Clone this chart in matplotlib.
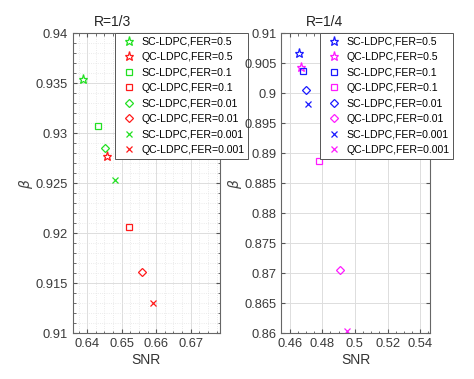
import matplotlib
matplotlib.use('Agg')
import matplotlib.pyplot as plt
from matplotlib.ticker import MultipleLocator, FuncFormatter

plt.rcParams['font.family'] = ['Liberation Sans', 'DejaVu Sans']

# легенда / серии
labels = ['SC-LDPC,FER=0.5', 'QC-LDPC,FER=0.5', 'SC-LDPC,FER=0.1', 'QC-LDPC,FER=0.1',
          'SC-LDPC,FER=0.01', 'QC-LDPC,FER=0.01', 'SC-LDPC,FER=0.001', 'QC-LDPC,FER=0.001']
markers = ['*', '*', 's', 's', 'D', 'D', 'x', 'x']

# R=1/3
snr_13 = [0.6388, 0.6456, 0.6430, 0.6520, 0.6451, 0.6560, 0.6480, 0.6590]
beta_13 = [0.9354, 0.9277, 0.9307, 0.9206, 0.9285, 0.9161, 0.9253, 0.9130]
colors_13 = ['#22e022', '#ff1a1a'] * 4

# R=1/4
snr_14 = [0.4655, 0.4672, 0.4680, 0.4778, 0.4700, 0.4907, 0.4713, 0.4951]
beta_14 = [0.9068, 0.9044, 0.9038, 0.8887, 0.9006, 0.8705, 0.8982, 0.8604]
colors_14 = ['#1a1aff', '#ff1aff'] * 4

fig = plt.figure(figsize=(4.74, 3.79), dpi=100)
W, H = 474.0, 379.0


def fmt(v, pos):
    return '%g' % round(v, 4)


def draw(rect, snr, beta, colors, xlim, ylim, xmaj, xmin, ymaj, ymin, minor_grid,
         title, title_x, ylab_x, leg_x):
    ax = fig.add_axes(rect)
    for s, b, c, m, lab in zip(snr, beta, colors, markers, labels):
        ms = 6.5 if m == '*' else (4.0 if m == 'D' else 4.5)
        ax.plot([s], [b], linestyle='none', marker=m, markersize=ms,
                markerfacecolor='none', markeredgecolor=c, markeredgewidth=0.9,
                label=lab)
    ax.set_xlim(*xlim)
    ax.set_ylim(*ylim)
    ax.xaxis.set_major_locator(MultipleLocator(xmaj))
    ax.yaxis.set_major_locator(MultipleLocator(ymaj))
    ax.xaxis.set_major_formatter(FuncFormatter(fmt))
    ax.yaxis.set_major_formatter(FuncFormatter(fmt))
    if xmin:
        ax.xaxis.set_minor_locator(MultipleLocator(xmin))
    if ymin:
        ax.yaxis.set_minor_locator(MultipleLocator(ymin))
    ax.tick_params(which='both', direction='in', top=True, right=True,
                   colors='#555555', labelcolor='#3a3a3a', labelsize=9.3)
    ax.tick_params(which='major', length=3)
    ax.tick_params(which='minor', length=1.8)
    for sp in ax.spines.values():
        sp.set_color('#666666')
        sp.set_linewidth(0.8)
    ax.grid(True, which='major', color='#dddddd', linewidth=0.7)
    if minor_grid:
        ax.grid(True, which='minor', color='#e4e4e4', linestyle=':', linewidth=0.6)
    ax.set_axisbelow(True)
    ax.set_title(title, x=title_x, fontsize=10, color='#222222', pad=5)
    ax.set_xlabel('SNR', fontsize=10, color='#333333', labelpad=2)
    ax.set_ylabel(r'$\beta$', fontsize=10, color='#444444')
    ax.yaxis.set_label_coords(ylab_x, 0.5)
    leg = ax.legend(loc='upper left', bbox_to_anchor=(leg_x / W, 1 - 33.0 / H),
                    bbox_transform=fig.transFigure, fancybox=False,
                    edgecolor='#555555', framealpha=1, fontsize=7.6,
                    handlelength=1.9, handletextpad=0.25, borderpad=0.35,
                    labelspacing=0.52, borderaxespad=0)
    leg.get_frame().set_linewidth(0.7)
    return ax


draw([72.7 / W, 1 - 333.3 / H, 147.3 / W, 300.0 / H], snr_13, beta_13, colors_13,
     (0.6358, 0.6785), (0.91, 0.94), 0.01, 0.0025, 0.005, 0.001, True,
     'R=1/3', 0.27, -(72.7 - 35) / 147.3, 115)
draw([281.3 / W, 1 - 333.3 / H, 148.4 / W, 300.0 / H], snr_14, beta_14, colors_14,
     (0.4549, 0.5458), (0.86, 0.91), 0.02, 0.005, 0.005, None, False,
     'R=1/4', 0.29, -(281.3 - 244) / 148.4, 320)

fig.savefig('out.png', dpi=100)
